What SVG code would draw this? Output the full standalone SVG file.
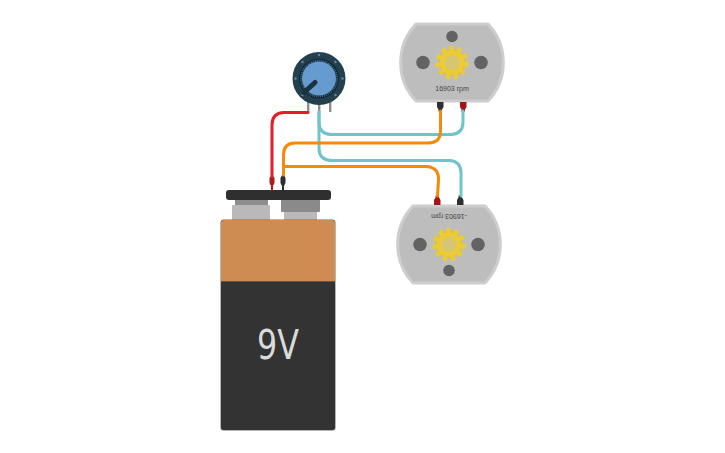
<svg xmlns="http://www.w3.org/2000/svg" width="725" height="453" viewBox="0 0 725 453">
<style>
.w{fill:none;stroke-width:3;stroke-linecap:round;stroke-linejoin:round}
.or{stroke:#f58a0a}
.cy{stroke:#6fc3cc}
.rd{stroke:#e21f26}
.body{fill:#bdbdbd;stroke:#cdcdcd;stroke-width:3;stroke-linejoin:round}
.hole{fill:#636363}
.gear{fill:#ebcb37;stroke:#e0bb2a;stroke-width:1}
.teeth{fill:none;stroke:#ebcb37;stroke-width:5.500;stroke-dasharray:4.4 3.45}
.hub{fill:#d6c673}
.rpm{font:7px "Liberation Sans",Arial,sans-serif;fill:#444;text-anchor:middle;opacity:.99}
.pin{fill:#8e8e8e}
.tb{fill:#2f2f2f}
.tr{fill:#a3151b}
</style>
<rect width="725" height="453" fill="#fff"/>
<g id="potentiometer">
<rect class="pin" x="307" y="100" width="2.4" height="12"/>
<rect class="pin" x="318" y="100" width="2.4" height="12"/>
<rect class="pin" x="329" y="100" width="2.4" height="12"/>
<circle cx="319" cy="78.500" r="26.500" fill="#24404f"/>
<circle cx="319" cy="78.500" r="20" fill="#13252f"/>
<circle cx="319" cy="78.500" r="18" fill="none" stroke="#3f6a8e" stroke-width="2" stroke-dasharray="1 1"/>
<circle cx="319" cy="78.500" r="17" fill="#669bcf"/>
<g fill="#5f8aa6"><circle cx="319" cy="55" r="1.200"/><circle cx="335.500" cy="62" r="1.200"/><circle cx="342.500" cy="78.500" r="1.200"/><circle cx="335.500" cy="95" r="1.200"/><circle cx="302.500" cy="95" r="1.200"/><circle cx="295.500" cy="78.500" r="1.200"/><circle cx="302.500" cy="62" r="1.200"/></g>
<path d="M315 82.500 L304 92.500" stroke="#1c3240" stroke-width="5" stroke-linecap="round"/>
</g>
<g id="motor-top">
<path class="body" d="M416 24H488A56 56 0 0 1 488 101H416A56 56 0 0 1 416 24Z"/>
<circle class="hole" cx="452" cy="36.500" r="5.800"/>
<circle class="hole" cx="423" cy="62.500" r="6.800"/>
<circle class="hole" cx="481" cy="62.500" r="6.800"/>
<circle class="gear" cx="452" cy="62.500" r="13"/>
<circle class="teeth" cx="452" cy="62.500" r="14"/>
<circle class="hub" cx="452" cy="62.500" r="7.500"/>
<text class="rpm" x="452" y="91">16903 rpm</text>
<path class="tb" d="M437 102h6.500v5l-1.500 2.500v2h-3.500v-2l-1.500-2.500z"/>
<path class="tr" d="M460 102h6.500v5l-1.500 2.500v2h-3.500v-2l-1.500-2.500z"/>
</g>
<g id="motor-bottom">
<path class="body" d="M413 206H485A56 56 0 0 1 485 283H413A56 56 0 0 1 413 206Z"/>
<circle class="hole" cx="449" cy="270.500" r="5.800"/>
<circle class="hole" cx="420" cy="244.500" r="6.800"/>
<circle class="hole" cx="478" cy="244.500" r="6.800"/>
<circle class="gear" cx="449" cy="244.500" r="13"/>
<circle class="teeth" cx="449" cy="244.500" r="14"/>
<circle class="hub" cx="449" cy="244.500" r="7.500"/>
<text class="rpm" transform="rotate(180 449 216)" x="449" y="218.500">-16903 rpm</text>
<path class="tr" d="M434 205h6.500v-5l-1.500-2.500v-2h-3.500v2l-1.500 2.500z"/>
<path class="tb" d="M457 205h6.500v-5l-1.500-2.500v-2h-3.500v2l-1.500 2.500z"/>
</g>
<g id="battery">
<rect x="235" y="200" width="33" height="6" fill="#8e8e8e"/>
<rect x="232" y="205" width="38" height="16" rx="1" fill="#b9b9b9"/>
<rect x="284" y="210" width="33" height="11" fill="#b9b9b9"/>
<rect x="281" y="198" width="39" height="14" rx="1" fill="#8a8a8a"/>
<rect x="220.500" y="219.500" width="115" height="211" rx="3" fill="#6e6e6e"/>
<path d="M221 281.500V223a3 3 0 0 1 3-3H332a3 3 0 0 1 3 3V281.500Z" fill="#ce8c53"/>
<path d="M221 281.500H335V427a3 3 0 0 1-3 3H224a3 3 0 0 1-3-3Z" fill="#333"/>
<rect x="226" y="190" width="105" height="10" rx="3" fill="#2f2f2f"/>
<text x="257" y="359" font-family="'DejaVu Sans',sans-serif" font-size="40" fill="#dcdcdc" opacity=".99" textLength="42" lengthAdjust="spacingAndGlyphs">9V</text>
<path d="M271 191V186L269.500 183V178L271 176H273L274.500 178V183L273 186V191Z" style="fill:#b01c20"/>
<path class="tb" d="M282 191V186L280.500 183V178L282 175H284L285.500 178V183L284 186V191Z"/>
</g>
<g id="connectors">
<path class="w rd" d="M308 112.500H284Q272 113 272 125V176"/>
<path class="w cy" d="M319 112V122Q319 134 331 134.500H451Q463 134 463 122V111"/>
<path class="w cy" d="M319 112V148Q319 160 331 160.500H449Q461 161 461 173V196"/>
<path class="w or" d="M440.500 111V131Q440.500 143 428 143H295Q283.500 143 283.500 155V175"/>
<path class="w or" d="M283.500 166.500H426Q439 167 438.500 180L437.500 196"/>
</g>
</svg>
